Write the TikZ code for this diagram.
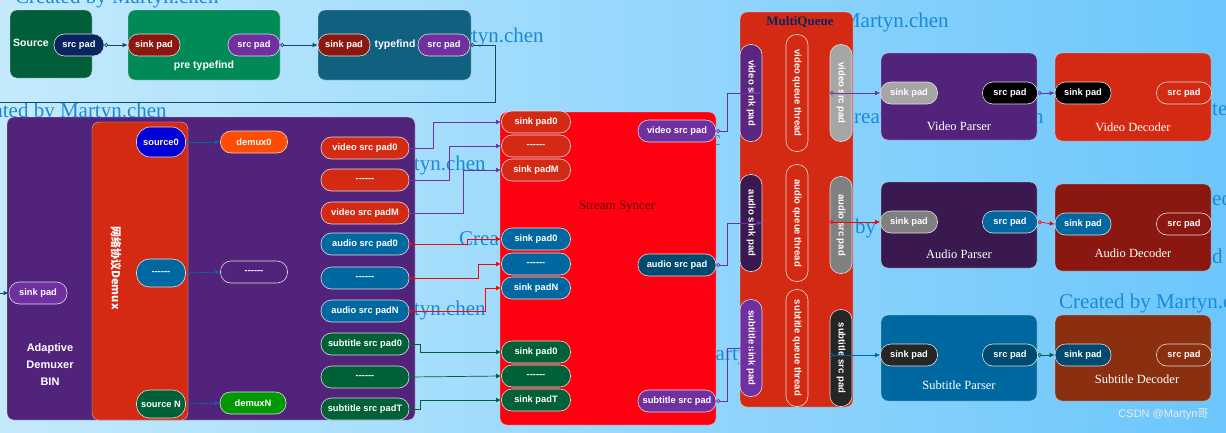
\documentclass[tikz,border=0pt]{standalone}
\usepackage{fontspec}
\setmainfont{Liberation Serif}
\newfontfamily\padfont{Liberation Sans}
\newfontfamily\cjkf{Noto Sans CJK SC}
\usetikzlibrary{arrows.meta,calc}
\definecolor{bgl}{HTML}{C4EAFC}\definecolor{bgr}{HTML}{6CC6FC}
\definecolor{wm}{HTML}{1A8AD8}
\definecolor{dgreen}{HTML}{005E38}\definecolor{mgreen}{HTML}{008A58}
\definecolor{teal}{HTML}{106080}\definecolor{navy}{HTML}{0A2460}
\definecolor{dred}{HTML}{8A1810}\definecolor{purp}{HTML}{7030A0}
\definecolor{bin}{HTML}{52237A}\definecolor{red1}{HTML}{D42A14}
\definecolor{blue1}{HTML}{0068A0}\definecolor{sub}{HTML}{006038}
\definecolor{ss}{HTML}{FF0010}\definecolor{dblue}{HTML}{004A70}
\definecolor{apar}{HTML}{3A1850}\definecolor{sdec}{HTML}{8A3010}
\definecolor{lnav}{HTML}{104A70}
\begin{document}
\begin{tikzpicture}[x=1pt,y=-1pt,
 wmk/.style={text=wm,font=\fontsize{21}{21}\selectfont,anchor=west,inner sep=0},
 box/.style={draw=white!70!gray,line width=0.3pt,rounded corners=7pt},
 pill/.style={draw=white!75!gray,line width=0.6pt,rounded corners=10.5pt,minimum height=22pt,inner sep=0,text=white,font=\padfont\bfseries\fontsize{9.3}{10}\selectfont},
 vpill/.style={pill,rotate=-90,minimum height=22pt,font=\padfont\bfseries\fontsize{9.5}{10}\selectfont},
 lbl/.style={text=white,font=\padfont\bfseries\fontsize{10.5}{11}\selectfont,inner sep=0},
 slbl/.style={text=white,font=\fontsize{12.5}{13}\selectfont,inner sep=0},
 con/.style={line width=0.7pt,-{Latex[length=5pt,width=4.5pt]}},
 ccon/.style={line width=0.7pt,{Circle[open,length=4pt,width=4pt]}-{Latex[length=5pt,width=4.5pt]}},
]
\useasboundingbox (0,0) rectangle (1226,432);
\shade[left color=bgl,right color=bgr] (0,0) rectangle (1226,432);
% watermarks
\node[wmk] (w1) at (15,-2) {Created by Martyn.chen};
\node[wmk] (w2) at (340,37) {Created by Martyn.chen};
\node[wmk] (w3) at (-37,112) {Created by Martyn.chen};
\node[wmk] (w4) at (282,165) {Created by Martyn.chen};
\node[wmk] (w5) at (459,240) {Created by Martyn.chen};
\node[wmk] (w6) at (282,310) {Created by Martyn.chen};
\node[wmk] (w7) at (745,22) {Created by Martyn.chen};
\node[wmk] (w8) at (1059,303) {Created by Martyn.chen};
\node[wmk] (w9) at (-214,360) {Created by Martyn.chen};
\node[wmk] (w10) at (600,355) {Created by Martyn.chen};
\node[wmk] (w11) at (855,228) {by};
\node[wmk] (w12) at (840,118) {Created by Martyn.chen};
\node[wmk] (w13) at (1212,198) {ed};
\node[wmk] (w14) at (1212,256) {d};
\node[wmk] (w15) at (1212,110) {te};
\node[wmk] (w16) at (700,138) {l.c};

% top row
\draw[box,fill=dgreen] (10,10) rectangle (92,78);
\node[lbl] (srcl) at (31,43) {Source};
\node[pill,fill=navy,minimum width=50pt] (s0) at (79,45) {src pad};
\draw[box,fill=mgreen] (128,10) rectangle (280,80);
\node[pill,fill=dred,minimum width=52pt] (p1) at (154,45) {sink pad};
\node[pill,fill=purp,minimum width=52pt] (p2) at (254,45) {src pad};
\node[lbl] (prel) at (204,66) {pre typefind};
\draw[box,fill=teal] (318,10) rectangle (471,80);
\node[pill,fill=dred,minimum width=52pt] (t1p) at (344,45) {sink pad};
\node[lbl] (tfl) at (395,45) {typefind};
\node[pill,fill=purp,minimum width=52pt] (t2p) at (444,45) {src pad};
\draw[ccon,lnav] (s0.east) -- (p1.west);
\draw[ccon,lnav] (p2.east) -- (t1p.west);
\coordinate (c1) at (495,102);
\coordinate (c2) at (0,102);
\coordinate (c3) at (0,293);
\draw[lnav,line width=0.7pt,{Circle[open,length=4pt,width=4pt]}-] (t2p.east) -| (c1) -- (c2);

% Adaptive demuxer bin
\draw[box,fill=bin] (7,117) rectangle (415,420);
\draw[box,fill=red1] (92,122) rectangle (188,420);
\node[rotate=-90,text=white,font=\cjkf\bfseries\fontsize{11}{12}\selectfont,inner sep=0] (dmx) at (116,268) {网络协议Demux};
\node[pill,fill=blue!85!black,minimum width=49pt,minimum height=30pt,rounded corners=14pt] (so0) at (161,142) {source0};
\node[pill,fill=blue1,minimum width=49pt,minimum height=28pt,rounded corners=13pt] (so1) at (161,273) {------};
\node[pill,fill=sub,minimum width=49pt,minimum height=28pt,rounded corners=13pt] (so2) at (161,404) {source N};
\node[pill,fill=orange!60!red,minimum width=67pt] (d0) at (254,142) {demux0};
\node[pill,fill=bin,minimum width=67pt] (d1) at (254,272) {------};
\node[pill,fill=green!60!black,minimum width=66pt] (d2) at (253,403) {demuxN};
\draw[con,blue1] (so0.east) -- (d0.west);
\draw[con,blue1] (so1.east) -- (d1.west);
\draw[con,blue1] (so2.east) -- (d2.west);
\node[pill,fill=purp,minimum width=58pt] (bsk) at (38,293) {sink pad};
\draw[con,lnav] (c3) -- (bsk.west);
\node[lbl,align=center,font=\padfont\bfseries\fontsize{11}{17}\selectfont] (adl) at (50,365) {Adaptive\\Demuxer\\BIN};
\foreach \n/\y/\c/\t in {v0/148/red1/video src pad0, v1/180/red1/------, v2/213/red1/video src padM,
  a0/244/blue1/audio src pad0, a1/278/blue1/------, a2/311/blue1/audio src padN,
  s0x/344/sub/subtitle src pad0, s1x/377/sub/------, s2x/409/sub/subtitle src padT}
  \node[pill,fill=\c,minimum width=88pt] (\n) at (365,\y) {\t};

% Stream syncer
\draw[box,fill=ss] (500,112) rectangle (716,425);
\node[text=red!35!black,font=\fontsize{13}{14}\selectfont] (ssl) at (617,207) {Stream Syncer};
\foreach \n/\y/\c/\t in {k0/122/red1/sink pad0, k1/146/red1/------, k2/170/red1/sink padM,
  k3/239/blue1/sink pad0, k4/264/blue1/------, k5/288/blue1/sink padN,
  k6/352/sub/sink pad0, k7/376/sub/------, k8/400/sub/sink padT}
  \node[pill,fill=\c,minimum width=69pt] (\n) at (536,\y) {\t};
\node[pill,fill=purp,minimum width=78pt] (ov) at (677,131) {video src pad};
\node[pill,fill=dblue,minimum width=78pt] (oa) at (677,265) {audio src pad};
\node[pill,fill=purp,minimum width=78pt] (os) at (677,401) {subtitle src pad};

\draw[con,purp] (v0.east) -- ([xshift=24pt]v0.east) |- (k0.west);
\draw[con,purp] (v1.east) -- ([xshift=40pt]v1.east) |- (k1.west);
\draw[con,purp] (v2.east) -- ([xshift=54pt]v2.east) |- (k2.west);
\draw[ccon,red] (a0.east) -- ([xshift=58pt]a0.east) |- (k3.west);
\draw[ccon,red] (a1.east) -- ([xshift=69pt]a1.east) |- (k4.west);
\draw[ccon,red] (a2.east) -- ([xshift=76pt]a2.east) |- (k5.west);
\draw[ccon,sub] (s0x.east) -- ([xshift=11pt]s0x.east) |- (k6.west);
\draw[ccon,sub] (s1x.east) -- (k7.west);
\draw[ccon,sub] (s2x.east) -- ([xshift=11pt]s2x.east) |- (k8.west);

% MultiQueue
\draw[box,fill=red1] (740,12) rectangle (853,407);
\node[text=navy,font=\bfseries\fontsize{13}{14}\selectfont] (mql) at (800,22) {MultiQueue};
\node[vpill,fill=purp!80!black,minimum width=97pt] (mv1) at (751,93) {video sink pad};
\node[vpill,fill=red1,minimum width=117pt] (mv2) at (797,93) {video queue thread};
\node[vpill,fill=gray!70,minimum width=97pt] (mv3) at (841,93) {video src pad};
\node[vpill,fill=apar,minimum width=97pt] (ma1) at (751,223) {audio sink pad};
\node[vpill,fill=red1,minimum width=117pt] (ma2) at (797,223) {audio queue thread};
\node[vpill,fill=gray,minimum width=97pt] (ma3) at (841,225) {audio src pad};
\node[vpill,fill=purp,minimum width=97pt] (ms1) at (751,348) {subtitle sink pad};
\node[vpill,fill=red1,minimum width=117pt] (ms2) at (797,348) {subtitle queue thread};
\node[vpill,fill=black!85,minimum width=97pt] (ms3) at (841,358) {subtitle src pad};
\draw[ccon,purp] (ov.east) -- ([xshift=11pt]ov.east) |- (mv1.north);
\draw[ccon,purp] (oa.east) -- ([xshift=11pt]oa.east) |- (ma1.north);
\draw[ccon,purp] (os.east) -- ([xshift=11pt]os.east) |- (ms1.north);

% parsers / decoders
\draw[box,fill=bin] (881,53) rectangle (1037,140);
\node[pill,fill=gray!70,minimum width=57pt] (vp1) at (909,93) {sink pad};
\node[pill,fill=black,minimum width=55pt] (vp2) at (1010,93) {src pad};
\node[slbl] (vpl) at (959,126) {Video Parser};
\draw[box,fill=red1] (1055,53) rectangle (1211,141);
\node[pill,fill=black,minimum width=56pt] (vd1) at (1083,93) {sink pad};
\node[pill,fill=red1,minimum width=55pt] (vd2) at (1184,93) {src pad};
\node[slbl] (vdl) at (1133,127) {Video Decoder};

\draw[box,fill=apar] (881,182) rectangle (1037,268);
\node[pill,fill=gray,minimum width=57pt] (ap1) at (909,222) {sink pad};
\node[pill,fill=blue1,minimum width=55pt] (ap2) at (1010,222) {src pad};
\node[slbl] (apl) at (959,254) {Audio Parser};
\draw[box,fill=dred] (1055,184) rectangle (1211,271);
\node[pill,fill=blue1,minimum width=56pt] (ad1) at (1083,224) {sink pad};
\node[pill,fill=dred,minimum width=55pt] (ad2) at (1184,224) {src pad};
\node[slbl] (adl2) at (1133,253) {Audio Decoder};

\draw[box,fill=blue1] (881,315) rectangle (1037,401);
\node[pill,fill=black!85,minimum width=57pt] (sp1) at (909,355) {sink pad};
\node[pill,fill=dblue,minimum width=55pt] (sp2) at (1010,355) {src pad};
\node[slbl] (spl) at (959,385) {Subtitle Parser};
\draw[box,fill=sdec] (1055,315) rectangle (1211,401);
\node[pill,fill=dblue,minimum width=56pt] (sd1) at (1083,355) {sink pad};
\node[pill,fill=sdec,minimum width=55pt] (sd2) at (1184,355) {src pad};
\node[slbl] (sdl) at (1137,379) {Subtitle Decoder};

\draw[ccon,purp] (mv3.south) -- (vp1.west);
\draw[ccon,red] (ma3.south|-ap1.west) -- (ap1.west);
\draw[ccon,blue1] (ms3.south|-sp1.west) -- (sp1.west);
\draw[ccon,purp] (vp2.east) -- (vd1.west);
\draw[ccon,red] (ap2.east) -- (ad1.west);
\draw[ccon,sub] (sp2.east) -- (sd1.west);

\node[text=white!85!gray,font=\padfont\fontsize{11}{12}\selectfont,anchor=east] (csdn) at (1212,414) {CSDN @Martyn{\cjkf 哥}};
\end{tikzpicture}
\end{document}
